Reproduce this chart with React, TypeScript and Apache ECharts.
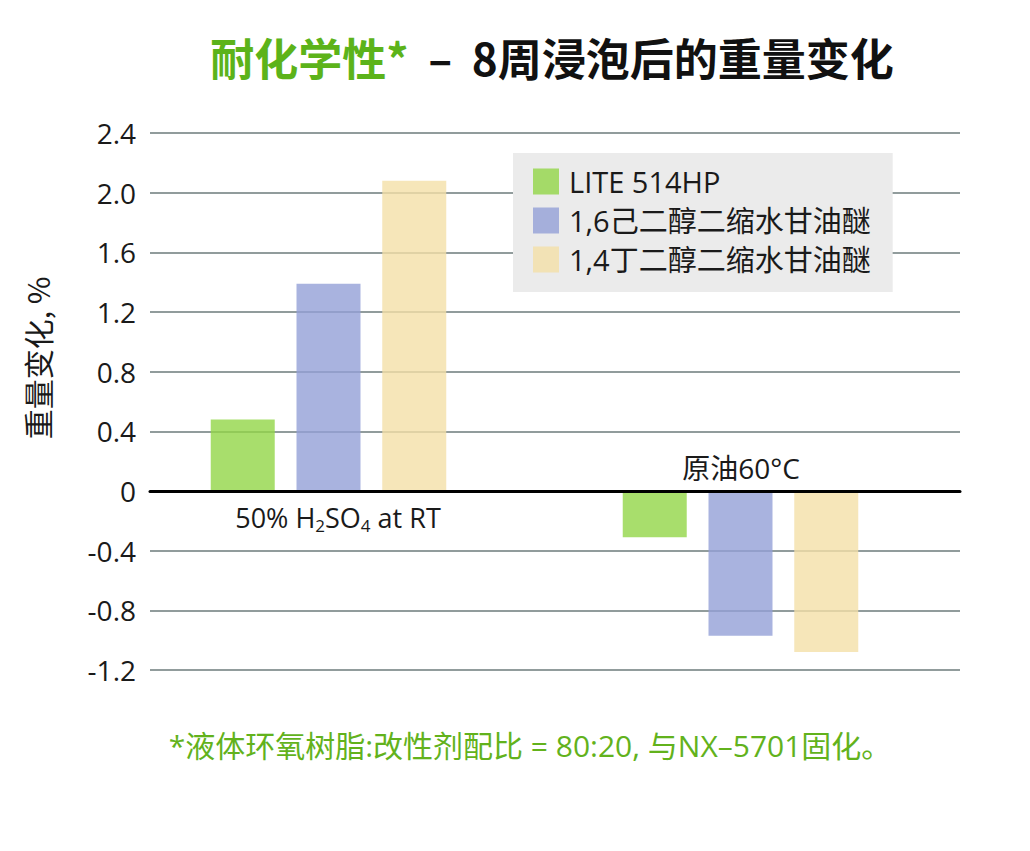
import React, { useEffect, useRef } from "react";
import * as echarts from "echarts";

const categories = ["50% H2SO4 at RT", "原油60°C"];
const seriesNames = ["LITE 514HP", "1,6己二醇二缩水甘油醚", "1,4丁二醇二缩水甘油醚"];
const liteValues = [0.48, -0.31];
const hexanediolValues = [1.39, -0.97];
const butanediolValues = [2.08, -1.08];
const seriesColors = ["#92d647", "#93a0d7", "#f4e0a7"];
const yMin = -1.2;
const yMax = 2.4;
const yInterval = 0.4;

const FONT = '"Open Sans", "Noto Sans CJK SC", sans-serif';
const CJK = '"Noto Sans CJK SC", "Noto Sans", sans-serif';

export default function App() {
  const ref = useRef<HTMLDivElement>(null);
  useEffect(() => {
    if (!ref.current) return;
    const chart = echarts.init(ref.current, null, { renderer: "svg" });
    const values = [liteValues, hexanediolValues, butanediolValues];
    chart.setOption({
      animation: false,
      backgroundColor: "#ffffff",
      grid: [
        { left: 150, right: 70, top: 133, bottom: 181 },
        { left: 122.5, right: 83.5, top: 133, bottom: 181 },
      ],
      xAxis: [
        {
          gridIndex: 0,
          type: "value",
          min: 0,
          max: 1,
          z: 10,
          axisLine: { show: true, onZero: true, lineStyle: { color: "#000000", width: 3 } },
          axisTick: { show: false },
          axisLabel: { show: false },
          splitLine: { show: false },
        },
        {
          gridIndex: 1,
          type: "category",
          data: categories,
          axisLine: { show: false },
          axisTick: { show: false },
          axisLabel: { show: false },
          splitLine: { show: false },
        },
      ],
      yAxis: [
        {
          gridIndex: 0,
          type: "value",
          min: yMin,
          max: yMax,
          interval: yInterval,
          axisLine: { show: false },
          axisTick: { show: false },
          axisLabel: {
            fontSize: 28,
            fontFamily: FONT,
            color: "#1a1a1a",
            margin: 14,
            formatter: (v: number) => (Math.abs(v) < 1e-9 ? "0" : v.toFixed(1)),
          },
          splitLine: { show: true, lineStyle: { color: "#6c7b7b", width: 1.5 } },
        },
        {
          gridIndex: 1,
          type: "value",
          min: yMin,
          max: yMax,
          interval: yInterval,
          show: false,
          splitLine: { show: false },
        },
      ],
      legend: {
        orient: "vertical",
        left: 513,
        top: 153,
        backgroundColor: "#ebebeb",
        padding: [14, 22, 18, 20],
        itemWidth: 26,
        itemHeight: 26,
        itemGap: 10,
        icon: "rect",
        data: seriesNames,
        textStyle: { fontSize: 29, fontFamily: FONT, color: "#1a1a1a", padding: [0, 0, 0, 5] },
      },
      series: seriesNames.map((name, i) => ({
        name,
        type: "bar",
        xAxisIndex: 1,
        yAxisIndex: 1,
        barWidth: 64,
        barGap: "34%",
        data: values[i],
        itemStyle: { color: seriesColors[i], opacity: 0.8 },
        z: 2,
      })),
      graphic: [
        {
          type: "text",
          x: 552,
          y: 57,
          style: {
            text: "{g|耐化学性*}{sp|  }{b|–}{sp|  }{b|8周浸泡后的重量变化}",
            align: "center",
            verticalAlign: "middle",
            rich: {
              g: { fontSize: 44, fontWeight: "bold", fontFamily: CJK, fill: "#5cb31a" },
              b: { fontSize: 44, fontWeight: "bold", fontFamily: CJK, fill: "#111111" },
              sp: { fontSize: 44, fontFamily: CJK, fill: "#111111" },
            },
          },
        },
        {
          type: "text",
          x: 37,
          y: 358,
          rotation: Math.PI / 2,
          style: {
            text: "重量变化, %",
            align: "center",
            verticalAlign: "middle",
            fontSize: 30,
            fontFamily: CJK,
            fill: "#1a1a1a",
          },
        },
        {
          type: "text",
          x: 338,
          y: 517,
          style: {
            text: "{n|50% H}{s|2}{n|SO}{s|4}{n| at RT}",
            align: "center",
            verticalAlign: "middle",
            rich: {
              n: { fontSize: 27, fontFamily: FONT, fill: "#1a1a1a", height: 36, verticalAlign: "middle" },
              s: { fontSize: 17, fontFamily: FONT, fill: "#1a1a1a", padding: [17, 0, 0, 0], verticalAlign: "middle" },
            },
          },
        },
        {
          type: "text",
          x: 741,
          y: 468,
          style: {
            text: "原油60°C",
            align: "center",
            verticalAlign: "middle",
            fontSize: 28,
            fontFamily: FONT,
            fill: "#1a1a1a",
          },
        },
        {
          type: "text",
          x: 530,
          y: 745,
          style: {
            text: "*液体环氧树脂:改性剂配比 = 80:20, 与NX–5701固化。",
            align: "center",
            verticalAlign: "middle",
            fontSize: 30,
            fontFamily: FONT,
            fill: "#62b21c",
          },
        },
      ],
    });
    return () => chart.dispose();
  }, []);
  return (
    <div
      ref={ref}
      style={{ position: "fixed", left: 0, top: 0, width: 1030, height: 851 }}
    />
  );
}
